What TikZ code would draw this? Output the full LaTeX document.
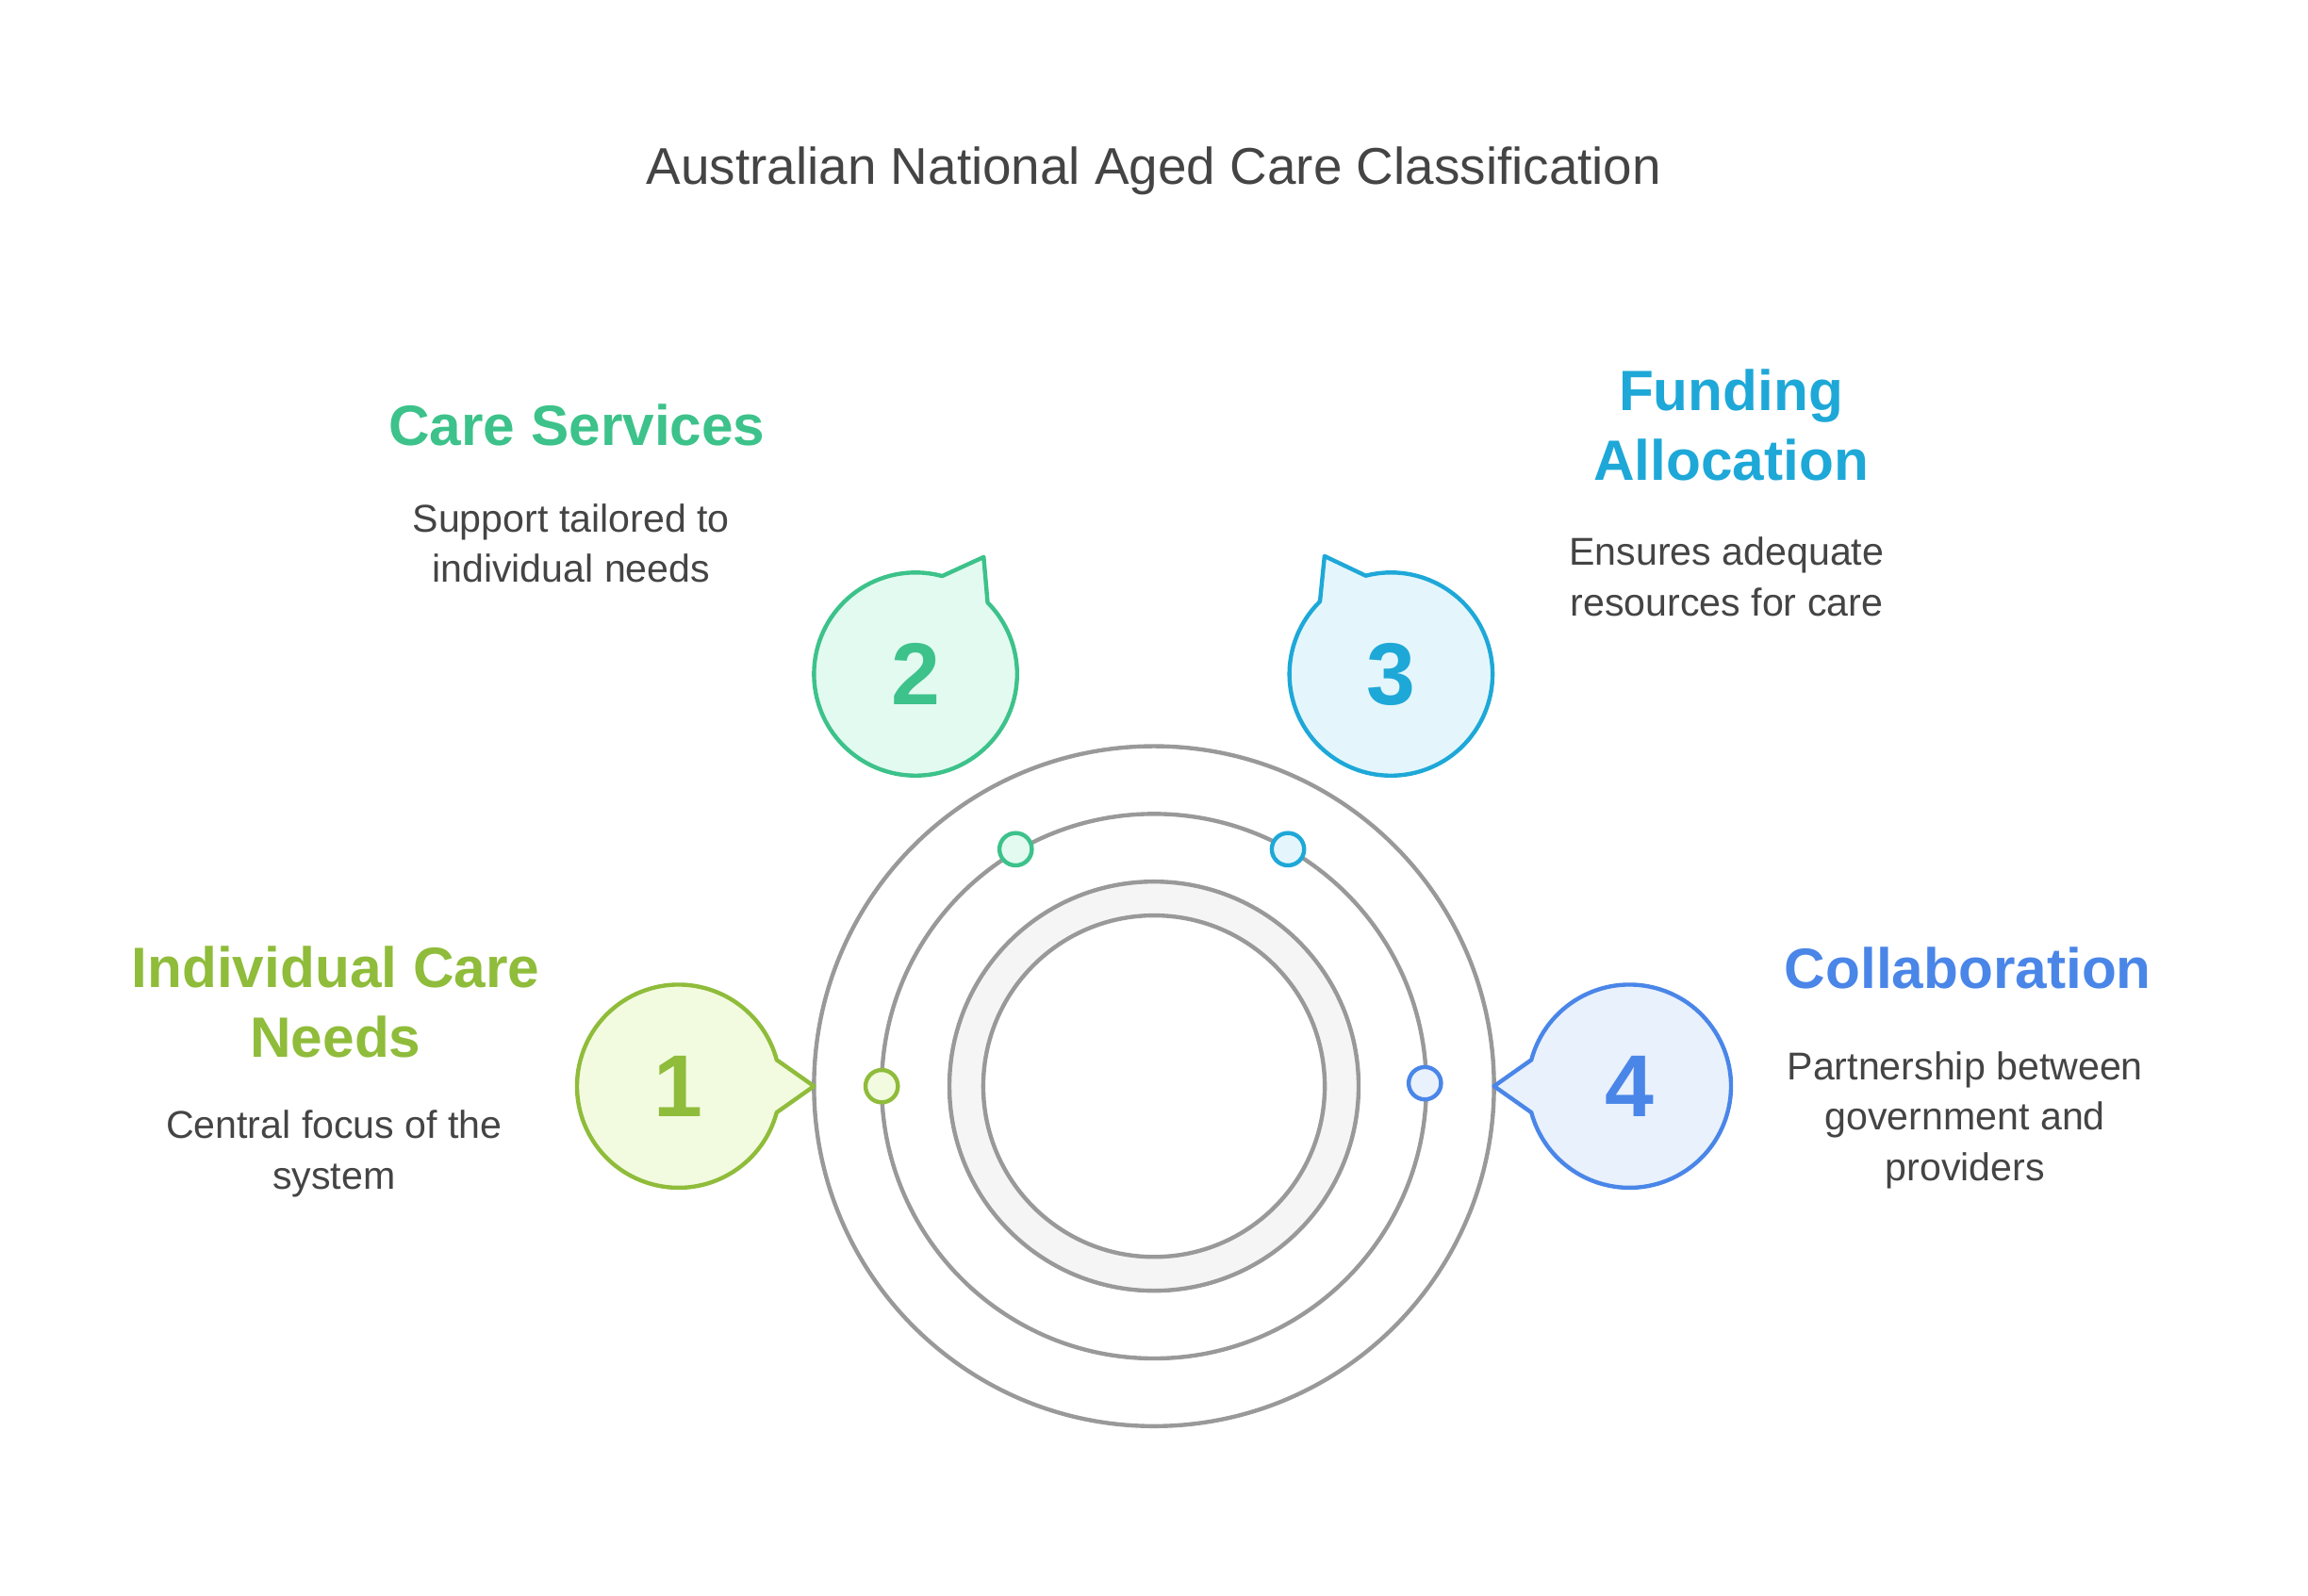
\documentclass[tikz,border=0pt]{standalone}
\usepackage{fontspec}
\setmainfont{Liberation Sans}
\usetikzlibrary{calc}
\definecolor{gr}{HTML}{999999}
\definecolor{txt}{HTML}{444444}
\definecolor{cA}{HTML}{8FBC3A}\definecolor{fA}{HTML}{F2FBE0}
\definecolor{cB}{HTML}{3CC28A}\definecolor{fB}{HTML}{E3FAF0}
\definecolor{cC}{HTML}{1EA8D8}\definecolor{fC}{HTML}{E4F6FC}
\definecolor{cD}{HTML}{4A86E8}\definecolor{fD}{HTML}{E9F1FD}
\newcommand{\bubble}[7]{% name, x,y, angle, draw, fill, number
 \draw[#5,fill=#6,line width=1.6pt,line join=round] (#2,#3) ++(#4+15:69) arc[start angle=#4+15,end angle=#4+345,radius=69] -- ($(#2,#3)+(#4:92)$) -- cycle;
 \node[num,text=#5] (#1) at (#2,#3) {#7};}
\begin{document}
\begin{tikzpicture}[x=0.02cm,y=-0.02cm,
 ring/.style={draw=gr,line width=1.6pt},
 head/.style={font=\fontsize{22}{27}\selectfont\bfseries,align=center},
 desc/.style={font=\fontsize{15}{19.5}\selectfont,text=txt,align=center},
 num/.style={font=\fontsize{34}{34}\selectfont\bfseries},
 dot/.style={circle,minimum size=0.44cm,inner sep=0pt,line width=1.6pt}]
\useasboundingbox (0,0) rectangle (1568,1084);
\node[font=\fontsize{20}{24}\selectfont,text=txt] (title) at (784,116) {Australian National Aged Care Classification};
\coordinate (c) at (784,738);
\draw[ring] (c) circle[radius=231];
\draw[ring] (c) circle[radius=185];
\draw[ring,fill=gray!8,even odd rule] (c) circle[radius=139] (c) circle[radius=116];
\node[dot,draw=cA,fill=fA] (d1) at (599,738) {};
\node[dot,draw=cB,fill=fB] (d2) at (690,577) {};
\node[dot,draw=cC,fill=fC] (d3) at (875,577) {};
\node[dot,draw=cD,fill=fD] (d4) at (968,736) {};
\bubble{b1}{461}{738}{0}{cA}{fA}{1}
\bubble{b2}{622}{458}{-59.8}{cB}{fB}{2}
\bubble{b3}{945}{458}{-119.4}{cC}{fC}{3}
\bubble{b4}{1107}{738}{180}{cD}{fD}{4}
\node[head,text=cA] (h1) at (228,681) {Individual Care\\Needs};
\node[desc] (t1) at (227,784) {Central focus of the\\system};
\node[head,text=cB] (h2) at (392,289) {Care Services};
\node[desc] (t2) at (388,369) {Support tailored to\\individual needs};
\node[head,text=cC] (h3) at (1176,289) {Funding\\Allocation};
\node[desc] (t3) at (1173,392) {Ensures adequate\\resources for care};
\node[head,text=cD] (h4) at (1337,658) {Collaboration};
\node[desc] (t4) at (1335,761) {Partnership between\\government and\\providers};
\end{tikzpicture}
\end{document}
